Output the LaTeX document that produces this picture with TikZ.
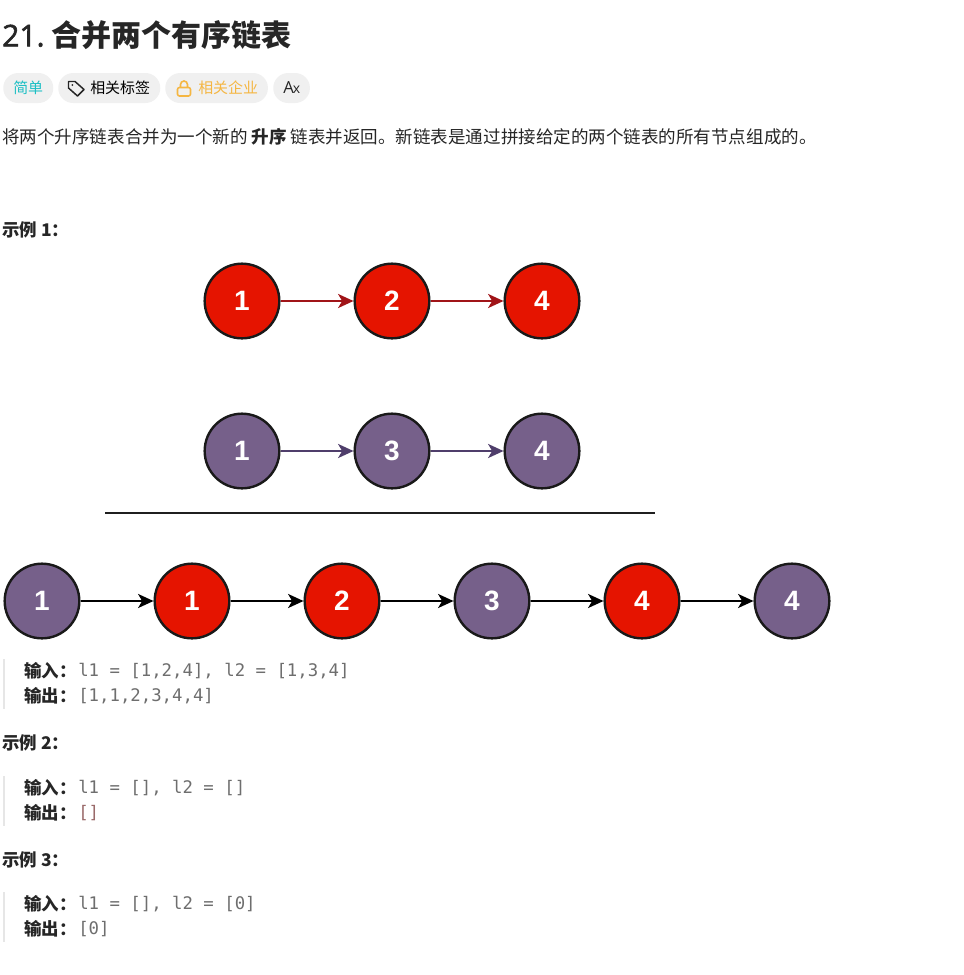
\documentclass[tikz,border=0pt]{standalone}
\usepackage{fontspec}
\setmainfont{Noto Sans CJK SC}
\newfontfamily\mono{DejaVu Sans Mono}
\newfontfamily\lat{Open Sans}
\newfontfamily\titlelat[FakeBold=1.8]{Open Sans}
\newfontfamily\arial{Liberation Sans}
\usetikzlibrary{arrows.meta}
\definecolor{redn}{HTML}{E51400}
\definecolor{purn}{HTML}{76608A}
\definecolor{redl}{HTML}{A01418}
\definecolor{purl}{HTML}{4F3E6B}
\definecolor{ink}{HTML}{262626}
\definecolor{tagbg}{HTML}{F0F0F0}
\definecolor{teal}{HTML}{1CBFC4}
\definecolor{amber}{HTML}{F5B642}
\definecolor{codec}{HTML}{6E6E6E}
\definecolor{barc}{HTML}{E6E6E6}
\definecolor{brownc}{HTML}{9A6A6A}
\tikzset{
 x=0.75pt,y=-0.75pt,
 txt/.style={anchor=west,inner sep=0pt,text=ink,font=\fontsize{13.15pt}{15pt}\selectfont},
 hd/.style={txt,font=\fontsize{13.1pt}{15pt}\selectfont\bfseries},
 code/.style={anchor=west,inner sep=0pt,text=codec,font=\mono\fontsize{13pt}{15pt}\selectfont},
 tag/.style={fill=tagbg,rounded corners=11.2pt,draw=none,minimum height=22.5pt,inner sep=0pt,anchor=west},
 tagt/.style={anchor=west,inner sep=0pt,font=\fontsize{11.2pt}{13pt}\selectfont},
 ball/.style={circle,draw=black!90,line width=1.8pt,minimum size=56pt,inner sep=0pt,text=white,font=\arial\bfseries\fontsize{21pt}{21pt}\selectfont},
 rb/.style={ball,fill=redn},
 pb/.style={ball,fill=purn},
 ar/.style={-{Stealth[length=11.5pt,width=10.5pt,inset=3pt]},line width=1.6pt},
 bar/.style={draw=barc,line width=1.5pt},
}
\begin{document}
\begin{tikzpicture}
\useasboundingbox[fill=white] (0,0) rectangle (964,975);
% heading
\node[anchor=west,inner sep=0pt,text=ink,font=\fontsize{22.5pt}{26pt}\selectfont\bfseries] (title) at (2,35) {{\titlelat\mdseries 21.}\kern5pt 合并两个有序链表};
% tags
\node[tag,minimum width=37.5pt] (t1) at (3,88) {};
\node[tagt,text=teal] (t1t) at (13,88) {简单};
\node[tag,minimum width=76.5pt] (t2) at (58,88) {};
\begin{scope}[line width=1.1pt,draw=ink,line join=round]
\draw (68.5,81.5) -- (68.5,88) -- (77.5,96) -- (84,89.5) -- (75,81.5) -- cycle;
\fill[ink] (72.3,85) circle (1);
\end{scope}
\node[tagt,text=black] (t2t) at (90,88) {相关标签};
\node[tag,minimum width=77pt] (t3) at (165,88) {};
\begin{scope}[draw=amber,line width=1.2pt]
\draw[rounded corners=1.5pt] (177.5,87.5) rectangle (190.5,96);
\draw (180.5,87.5) -- (180.5,84.5) arc[start angle=180,end angle=360,radius=3.5] -- (187.5,87.5);
\end{scope}
\node[tagt,text=amber] (t3t) at (198,88) {相关企业};
\node[tag,minimum width=27.5pt] (t4) at (273,88) {};
\node[anchor=center,inner sep=0pt,text=ink,font=\lat\fontsize{12.5pt}{13pt}\selectfont] (t4t) at (291.7,88) {A\kern-0.8pt\fontsize{10.5pt}{11pt}\selectfont x};
% description
\node[txt] (desc) at (2,137) {将两个升序链表合并为一个新的 \textbf{升序} 链表并返回。新链表是通过拼接给定的两个链表的所有节点组成的。};
\node[hd] (ex1) at (2,230) {示例 1：};
% list 1
\node[rb] (a1) at (242,301) {1};
\node[rb] (a2) at (392,301) {2};
\node[rb] (a3) at (542,301) {4};
\draw[ar,redl] (a1) -- (a2);
\draw[ar,redl] (a2) -- (a3);
% list 2
\node[pb] (b1) at (242,451) {1};
\node[pb] (b2) at (392,451) {3};
\node[pb] (b3) at (542,451) {4};
\draw[ar,purl] (b1) -- (b2);
\draw[ar,purl] (b2) -- (b3);
% rule
\coordinate (r1) at (105,513);
\coordinate (r2) at (655,513);
\draw[line width=1.8pt,draw=black!88] (r1) -- (r2);
% merged
\node[pb] (c1) at (42,601) {1};
\node[rb] (c2) at (192,601) {1};
\node[rb] (c3) at (342,601) {2};
\node[pb] (c4) at (492,601) {3};
\node[rb] (c5) at (642,601) {4};
\node[pb] (c6) at (792,601) {4};
\foreach \u/\v in {c1/c2,c2/c3,c3/c4,c4/c5,c5/c6}{\draw[ar,black] (\u) -- (\v);}
% example 1 io
\coordinate (q1a) at (4,659); \coordinate (q1b) at (4,709);
\draw[bar] (q1a) -- (q1b);
\node[hd] (i1) at (24,671) {输入：};
\node[code] (i1c) at (78,671.5) {l1 = [1,2,4], l2 = [1,3,4]};
\node[hd] (o1) at (24,696) {输出：};
\node[code] (o1c) at (78,696.5) {[1,1,2,3,4,4]};
\node[hd] (ex2) at (2,743) {示例 2：};
\coordinate (q2a) at (4,776); \coordinate (q2b) at (4,826);
\draw[bar] (q2a) -- (q2b);
\node[hd] (i2) at (24,788) {输入：};
\node[code] (i2c) at (78,788.5) {l1 = [], l2 = []};
\node[hd] (o2) at (24,813) {输出：};
\node[code,text=brownc] (o2c) at (78,813.5) {[]};
\node[hd] (ex3) at (2,860) {示例 3：};
\coordinate (q3a) at (4,892); \coordinate (q3b) at (4,942);
\draw[bar] (q3a) -- (q3b);
\node[hd] (i3) at (24,904) {输入：};
\node[code] (i3c) at (78,904.5) {l1 = [], l2 = [0]};
\node[hd] (o3) at (24,929) {输出：};
\node[code] (o3c) at (78,929.5) {[0]};
\end{tikzpicture}
\end{document}
